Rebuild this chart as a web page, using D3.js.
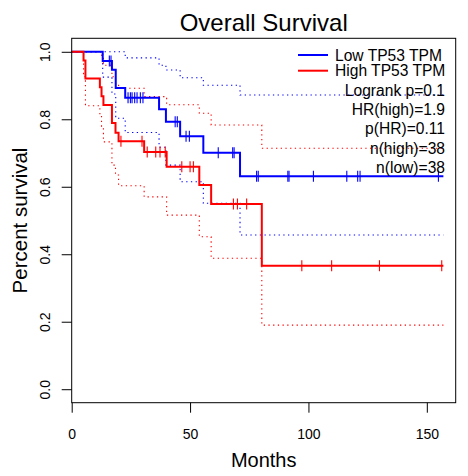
<!DOCTYPE html>
<html>
<head>
<meta charset="utf-8">
<script src="https://cdn.jsdelivr.net/npm/d3@7"></script>
<style>
  body { margin: 0; background: #fff; }
  svg text { font-family: "Liberation Sans", Arial, sans-serif; fill: #000; }
</style>
</head>
<body>
<div id="chart"></div>
<script>
// Low TP53 TPM group (blue): step times (months), survival and CI bounds after each step
const lowTimes  = [0, 13.1, 17.0, 18.6, 22.6, 36.9, 39.8, 45.8, 55.6, 71.1];
const lowSurv   = [1, 0.973, 0.947, 0.893, 0.864, 0.830, 0.793, 0.750, 0.701, 0.631];
const lowUpper  = [1, 1, 1, 1, 0.982, 0.960, 0.946, 0.923, 0.901, 0.872];
const lowLower  = [1, 0.925, 0.875, 0.803, 0.761, 0.717, 0.664, 0.615, 0.551, 0.457];
const lowCensor = [15.9, 16.6, 23.8, 24.8, 25.5, 26.6, 27.6, 29.0, 30.1, 43.7, 44.6, 48.3, 49.7,
                   61.9, 68.0, 68.6, 78.1, 78.8, 91.3, 91.8, 102.1, 116.2, 120.8, 121.8, 154.9];
const lowEnd = 157;

// High TP53 TPM group (red)
const highTimes  = [0, 5.0, 5.8, 11.9, 12.6, 13.4, 17.0, 18.5, 19.8, 30.6, 40.1, 53.9, 58.9, 80.3];
const highSurv   = [1, 0.974, 0.921, 0.895, 0.868, 0.842, 0.789, 0.760, 0.735, 0.703, 0.659, 0.605, 0.549, 0.366];
const highUpper  = [1, 1, 1, 1, 0.990, 0.960, 0.926, 0.905, 0.892, 0.867, 0.843, 0.818, 0.783, 0.714];
const highLower  = [1, 0.926, 0.840, 0.810, 0.775, 0.733, 0.664, 0.635, 0.603, 0.570, 0.516, 0.452, 0.388, 0.190];
const highCensor = [20.8, 29.7, 31.9, 35.5, 37.3, 39.5, 46.5, 50.0, 51.4, 68.3, 70.0, 73.9,
                    97.2, 109.8, 130.0, 156.3];
const highEnd = 157;

const xTicks = [0, 50, 100, 150];
const yTicks = [0, 0.2, 0.4, 0.6, 0.8, 1.0];
const legendLabels = ["Low TP53 TPM", "High TP53 TPM"];
const statLabels = ["Logrank p=0.1", "HR(high)=1.9", "p(HR)=0.11", "n(high)=38", "n(low)=38"];

const BLUE = "#0000ff";
const RED = "#ff0000";

const W = 468, H = 476;
const margin = { top: 38.3, left: 71.7, right: 12.3, bottom: 73.3 };
const width = W - margin.left - margin.right;
const height = H - margin.top - margin.bottom;

const svg = d3.select("#chart").append("svg")
  .attr("width", W)
  .attr("height", H);

const g = svg.append("g")
  .attr("transform", "translate(" + margin.left + "," + margin.top + ")");

const x = d3.scaleLinear().domain([0, 162.2]).range([0, width]);
const y = d3.scaleLinear().domain([-0.04, 1.04]).range([height, 0]);

// step path through the values, held until the end time
function stepPath (times, values, end) {
  const pts = times.map((t, i) => [t, values[i]]);
  pts.push([end, values[values.length - 1]]);
  return d3.line()
    .x(d => x(d[0]))
    .y(d => y(d[1]))
    .curve(d3.curveStepAfter)(pts);
}

function survAt (times, surv, t) {
  return surv[d3.bisectRight(times, t) - 1];
}

const groups = [
  { color: BLUE, times: lowTimes, surv: lowSurv, upper: lowUpper, lower: lowLower, censor: lowCensor, end: lowEnd },
  { color: RED, times: highTimes, surv: highSurv, upper: highUpper, lower: highLower, censor: highCensor, end: highEnd }
];

// confidence bands (dotted)
groups.forEach(grp => {
  [grp.upper, grp.lower].forEach(vals => {
    g.append("path")
      .attr("d", stepPath(grp.times, vals, grp.end))
      .attr("fill", "none")
      .attr("stroke", grp.color)
      .attr("stroke-width", 1.1)
      .attr("stroke-dasharray", "1.3,3.4");
  });
});

// survival curves and censor marks
groups.forEach(grp => {
  g.append("path")
    .attr("d", stepPath(grp.times, grp.surv, grp.end))
    .attr("fill", "none")
    .attr("stroke", grp.color)
    .attr("stroke-width", 2);

  g.append("g")
    .selectAll("line")
    .data(grp.censor)
    .enter()
    .append("line")
    .attr("x1", d => x(d))
    .attr("x2", d => x(d))
    .attr("y1", d => y(survAt(grp.times, grp.surv, d)) - 5.5)
    .attr("y2", d => y(survAt(grp.times, grp.surv, d)) + 5.5)
    .attr("stroke", grp.color)
    .attr("stroke-width", 1.1);
});

// plot box
g.append("rect")
  .attr("x", 0)
  .attr("y", 0)
  .attr("width", width)
  .attr("height", height)
  .attr("fill", "none")
  .attr("stroke", "#000")
  .attr("stroke-width", 1);

// axes
const axisX = g.append("g")
  .attr("transform", "translate(0," + height + ")")
  .call(d3.axisBottom(x).tickValues(xTicks).tickSize(10).tickFormat(d3.format("d")));
axisX.select(".domain").remove();
axisX.selectAll("line").attr("stroke", "#000");
axisX.selectAll("text")
  .attr("y", 36)
  .attr("dy", null)
  .attr("font-size", 14);

const axisY = g.append("g")
  .call(d3.axisLeft(y).tickValues(yTicks).tickSize(10).tickFormat(d3.format(".1f")));
axisY.select(".domain").remove();
axisY.selectAll("line").attr("stroke", "#000");
axisY.selectAll("text")
  .attr("transform", "rotate(-90)")
  .attr("x", 0)
  .attr("y", -21.7)
  .attr("dy", null)
  .attr("text-anchor", "middle")
  .attr("font-size", 14);

// titles
svg.append("text")
  .attr("x", margin.left + width / 2)
  .attr("y", 30.5)
  .attr("text-anchor", "middle")
  .attr("font-size", 24)
  .text("Overall Survival");

svg.append("text")
  .attr("x", margin.left + width / 2)
  .attr("y", 466.5)
  .attr("text-anchor", "middle")
  .attr("font-size", 20)
  .text("Months");

svg.append("text")
  .attr("transform", "translate(26.5," + (margin.top + height / 2) + ") rotate(-90)")
  .attr("text-anchor", "middle")
  .attr("font-size", 20.5)
  .text("Percent survival");

// legend
const legend = svg.append("g");
legendLabels.forEach((label, i) => {
  const ly = 55 + i * 15.7;
  legend.append("line")
    .attr("x1", 298)
    .attr("x2", 328)
    .attr("y1", ly)
    .attr("y2", ly)
    .attr("stroke", groups[i].color)
    .attr("stroke-width", 2);
  legend.append("text")
    .attr("x", 335)
    .attr("y", ly + 5.6)
    .attr("font-size", 15.6)
    .text(label);
});

statLabels.forEach((label, i) => {
  legend.append("text")
    .attr("x", 445)
    .attr("y", 96 + i * 19.2)
    .attr("text-anchor", "end")
    .attr("font-size", 15.6)
    .text(label);
});
</script>
</body>
</html>
